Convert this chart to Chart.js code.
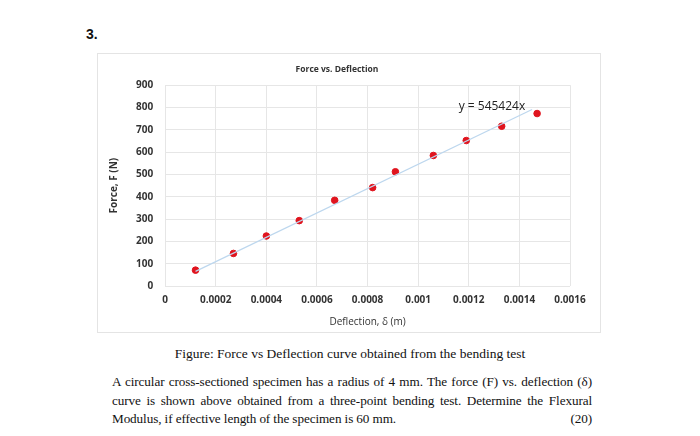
<!DOCTYPE html>
<html>
<head>
<meta charset="utf-8">
<script src="https://cdn.jsdelivr.net/npm/chart.js@4/dist/chart.umd.min.js"></script>
<style>
  body { margin: 0; width: 700px; height: 436px; background: #fff; position: relative; overflow: hidden; font-family: "Liberation Serif", serif; color: #111; }
  #num { position: absolute; left: 86px; top: 26px; font-size: 14px; font-weight: bold; font-family: "Liberation Sans", sans-serif; }
  #box { position: absolute; left: 97px; top: 53px; width: 502px; height: 278px; border: 1px solid #e4e4e4; }
  #caption { position: absolute; left: 0; width: 700px; top: 346px; text-align: center; font-size: 13.5px; }
  #para { position: absolute; left: 112px; width: 480px; top: 373px; font-size: 13.2px; line-height: 18.5px; text-align: justify; letter-spacing: -0.1px; }
</style>
</head>
<body>
<div id="num">3.</div>
<div id="box"><canvas id="chart" width="502" height="278"></canvas></div>
<div id="caption">Figure: Force vs Deflection curve obtained from the bending test</div>
<div id="para">A circular cross-sectioned specimen has a radius of 4 mm. The force (F) vs. deflection (δ) curve is shown above obtained from a three-point bending test. Determine the Flexural Modulus, if effective length of the specimen is 60 mm. <span style="float:right">(20)</span></div>
<script>
const deflection = [0.00012, 0.00027, 0.0004, 0.00053, 0.00067, 0.00082, 0.00091, 0.00106, 0.00119, 0.00133, 0.00147];
const force = [71, 146, 224, 293, 384, 441, 512, 585, 652, 716, 773];
const slope = 545424;
const trendX = [0.00012, 0.00145];
const equationLabel = 'y = 545424x';

const points = deflection.map((x, i) => ({ x: x, y: force[i] }));
const trend = trendX.map(x => ({ x: x, y: slope * x }));

const labelPlugin = {
    id: 'eqLabel',
    afterDatasetsDraw(chart) {
        const c = chart.ctx;
        const px = chart.scales.x.getPixelForValue(0.00116);
        const py = chart.scales.y.getPixelForValue(803);
        c.save();
        c.font = '12px "Open Sans", sans-serif';
        c.fillStyle = '#222';
        c.textBaseline = 'middle';
        c.fillText(equationLabel, px, py);
        c.restore();
    }
};

const font = { family: '"Open Sans", sans-serif', size: 10, weight: 'bold' };
new Chart(document.getElementById('chart'), {
    type: 'scatter',
    data: {
        datasets: [
            { data: trend, showLine: true, borderColor: '#bdd7ee', borderWidth: 1.2, pointRadius: 0 },
            { data: points, backgroundColor: '#e0141e', borderColor: '#e0141e', pointRadius: 3.3 }
        ]
    },
    options: {
        responsive: false,
        animation: false,
        layout: { padding: { left: 6, right: 30, top: 4, bottom: 4 } },
        plugins: {
            legend: { display: false },
            tooltip: { enabled: false },
            title: { display: true, text: 'Force vs. Deflection', color: '#333', font: { family: '"Open Sans", sans-serif', size: 8.5 }, padding: { top: 6, bottom: 11 } }
        },
        scales: {
            x: {
                min: 0, max: 0.0016,
                ticks: { stepSize: 0.0002, color: '#333', font: font, padding: 8, callback: v => String(parseFloat(v.toFixed(4))) },
                grid: { color: '#e6e6e6', drawTicks: false },
                border: { display: false },
                title: { display: true, text: 'Deflection, δ (m)', color: '#333', font: { family: '"Open Sans", sans-serif', size: 10 }, padding: { top: 2, bottom: 0 } }
            },
            y: {
                min: 0, max: 900,
                ticks: { stepSize: 100, color: '#333', font: font, padding: 12 },
                grid: { color: '#e6e6e6', drawTicks: false },
                border: { display: false },
                title: { display: true, text: 'Force, F (N)', color: '#333', font: { family: '"Open Sans", sans-serif', size: 10, weight: 'bold' } }
            }
        }
    },
    plugins: [labelPlugin]
});
</script>
</body>
</html>
